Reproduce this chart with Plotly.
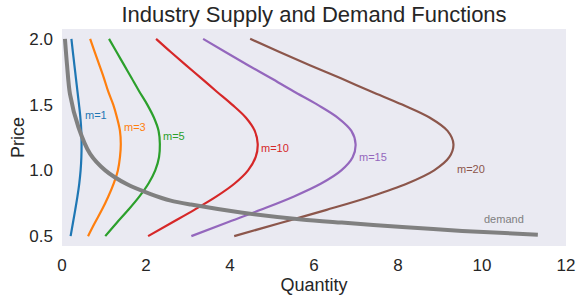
import plotly.graph_objects as go

# Prices at which supply quantities were read
prices = [0.5, 0.6, 0.7, 0.8, 0.9, 1.0, 1.1, 1.2, 1.3, 1.4, 1.5, 1.6, 1.7, 1.8, 1.9, 2.0]

supply_m1 = [0.205, 0.26, 0.315, 0.367, 0.411, 0.443, 0.461, 0.466, 0.459, 0.438, 0.405, 0.368, 0.332, 0.295, 0.259, 0.224]
supply_m3 = [0.62, 0.78, 0.95, 1.10, 1.23, 1.33, 1.38, 1.40, 1.38, 1.31, 1.22, 1.10, 1.00, 0.89, 0.78, 0.67]
supply_m5 = [1.03, 1.30, 1.58, 1.84, 2.06, 2.22, 2.31, 2.33, 2.30, 2.19, 2.03, 1.84, 1.66, 1.48, 1.30, 1.12]
supply_m10 = [2.05, 2.60, 3.15, 3.67, 4.11, 4.43, 4.61, 4.66, 4.59, 4.38, 4.05, 3.68, 3.32, 2.95, 2.59, 2.24]
supply_m15 = [3.08, 3.90, 4.73, 5.51, 6.17, 6.65, 6.92, 6.99, 6.89, 6.57, 6.08, 5.52, 4.98, 4.43, 3.89, 3.36]
supply_m20 = [4.10, 5.20, 6.30, 7.34, 8.22, 8.86, 9.22, 9.32, 9.18, 8.76, 8.10, 7.36, 6.64, 5.90, 5.18, 4.48]

supply_labels = ["m=1", "m=3", "m=5", "m=10", "m=15", "m=20"]
supply_series = [supply_m1, supply_m3, supply_m5, supply_m10, supply_m15, supply_m20]
label_x = [0.49, 1.43, 2.35, 4.70, 7.02, 9.35]
label_y = [1.42, 1.33, 1.26, 1.17, 1.10, 1.01]

demand_q = [0.07, 0.12, 0.19, 0.39, 0.67, 1.03, 1.55, 2.11, 2.59, 3.07, 4.26, 5.70, 6.66, 8.10, 9.53, 11.33]
demand_p = [2.0, 1.80, 1.58, 1.33, 1.125, 1.0, 0.894, 0.82, 0.77, 0.74, 0.68, 0.627, 0.603, 0.57, 0.54, 0.51]

colors = ["#1f77b4", "#ff7f0e", "#2ca02c", "#d62728", "#9467bd", "#8c564b"]
FONT = "Liberation Sans, Arial, sans-serif"
TXT = "#262626"

fig = go.Figure()
for name, q, c in zip(supply_labels, supply_series, colors):
    fig.add_trace(go.Scatter(x=q, y=prices, mode="lines", name=name,
                             line=dict(color=c, width=2.2, shape="spline", smoothing=1.0),
                             showlegend=False))
fig.add_trace(go.Scatter(x=demand_q, y=demand_p, mode="lines", name="demand",
                         line=dict(color="#808080", width=4, shape="spline", smoothing=0.8),
                         showlegend=False))

for name, lx, ly, c in zip(supply_labels, label_x, label_y, colors):
    fig.add_annotation(x=lx, y=ly, text=name, showarrow=False, xanchor="left", yanchor="middle",
                       font=dict(family=FONT, size=11, color=c))
fig.add_annotation(x=10.0, y=0.63, text="demand", showarrow=False, xanchor="left", yanchor="middle",
                   font=dict(family=FONT, size=11, color="#808080"))

fig.update_layout(
    width=580, height=300,
    margin=dict(l=62, r=14, t=29, b=54),
    paper_bgcolor="white", plot_bgcolor="#EAEAF2",
    font=dict(family=FONT, color=TXT),
    title=dict(text="Industry Supply and Demand Functions", x=0.5, xref="paper", xanchor="center",
               y=0.952, yanchor="middle", font=dict(size=22, color=TXT)),
    xaxis=dict(range=[0, 12], tickvals=[0, 2, 4, 6, 8, 10, 12], showgrid=False, zeroline=False,
               showline=False, ticks="", tickfont=dict(size=17, color=TXT), ticklabelstandoff=7,
               automargin=False,
               title=dict(text="Quantity", font=dict(size=18, color=TXT), standoff=3)),
    yaxis=dict(range=[0.425, 2.075], tickvals=[0.5, 1.0, 1.5, 2.0], ticktext=["0.5", "1.0", "1.5", "2.0"],
               showgrid=False, zeroline=False, showline=False, ticks="",
               tickfont=dict(size=17, color=TXT), ticklabelstandoff=8, automargin=False,
               title=dict(text="Price", font=dict(size=18, color=TXT), standoff=0)),
)

fig.write_html("out.html")
